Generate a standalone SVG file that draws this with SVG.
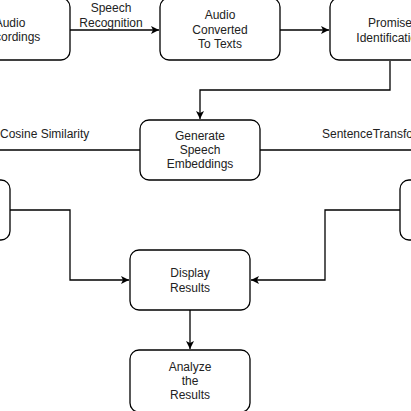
<svg xmlns="http://www.w3.org/2000/svg" width="411" height="411" viewBox="0 0 411 411">
<style>
.n{fill:#fff;stroke:#000;stroke-width:1.3}
.t{font-family:"Liberation Sans",Arial,sans-serif;font-size:12px;fill:#222;text-anchor:middle}
.e{fill:none;stroke:#000;stroke-width:1.3}
</style>
<defs>
<marker id="a" markerUnits="userSpaceOnUse" markerWidth="12" markerHeight="12" viewBox="-9 -6 12 12" refX="0" refY="0" orient="auto">
<path d="M-8,-4 L0,0 L-8,4 L-6,0 z" fill="#000"/>
</marker>
</defs>
<rect width="411" height="411" fill="#fff"/>
<g id="connectors">
<path class="e" d="M70,30 H159" marker-end="url(#a)"/>
<path class="e" d="M280,30 H329" marker-end="url(#a)"/>
<path class="e" d="M390,61 V90 H200 V119" marker-end="url(#a)"/>
<path class="e" d="M140,150 H-20"/>
<path class="e" d="M260,150 H430"/>
<path class="e" d="M10,210 H70 V280 H129" marker-end="url(#a)"/>
<path class="e" d="M400,210 H325 V280 H251" marker-end="url(#a)"/>
<path class="e" d="M190,310 V349" marker-end="url(#a)"/>
<text class="t" x="111" y="12">Speech</text>
<text class="t" x="111" y="27">Recognition</text>
<text class="t" x="0" y="138" style="text-anchor:start">Cosine Similarity</text>
<text class="t" x="322" y="138" style="text-anchor:start">SentenceTransformers</text>
</g>
<g id="audio-recordings">
<rect class="n" x="-50" y="-2" width="120" height="62" rx="9"/>
<text class="t" x="10" y="27">Audio</text>
<text class="t" x="10" y="41">Recordings</text>
</g>
<g id="audio-converted">
<rect class="n" x="160" y="-2" width="120" height="62" rx="9"/>
<text class="t" x="220" y="19">Audio</text>
<text class="t" x="220" y="34">Converted</text>
<text class="t" x="220" y="48">To Texts</text>
</g>
<g id="promise-identification">
<rect class="n" x="330" y="-2" width="120" height="62" rx="9"/>
<text class="t" x="390" y="27">Promise</text>
<text class="t" x="390" y="42">Identification</text>
</g>
<g id="generate-embeddings">
<rect class="n" x="140" y="120" width="120" height="60" rx="9"/>
<text class="t" x="200" y="140">Generate</text>
<text class="t" x="200" y="154">Speech</text>
<text class="t" x="200" y="168">Embeddings</text>
</g>
<g id="left-node">
<rect class="n" x="-110" y="180" width="120" height="60" rx="9"/>
</g>
<g id="right-node">
<rect class="n" x="400" y="180" width="120" height="60" rx="9"/>
</g>
<g id="display-results">
<rect class="n" x="130" y="250" width="120" height="60" rx="9"/>
<text class="t" x="190" y="277">Display</text>
<text class="t" x="190" y="292">Results</text>
</g>
<g id="analyze-results">
<rect class="n" x="130" y="350" width="120" height="62" rx="9"/>
<text class="t" x="190" y="371">Analyze</text>
<text class="t" x="190" y="385">the</text>
<text class="t" x="190" y="399">Results</text>
</g>
</svg>
